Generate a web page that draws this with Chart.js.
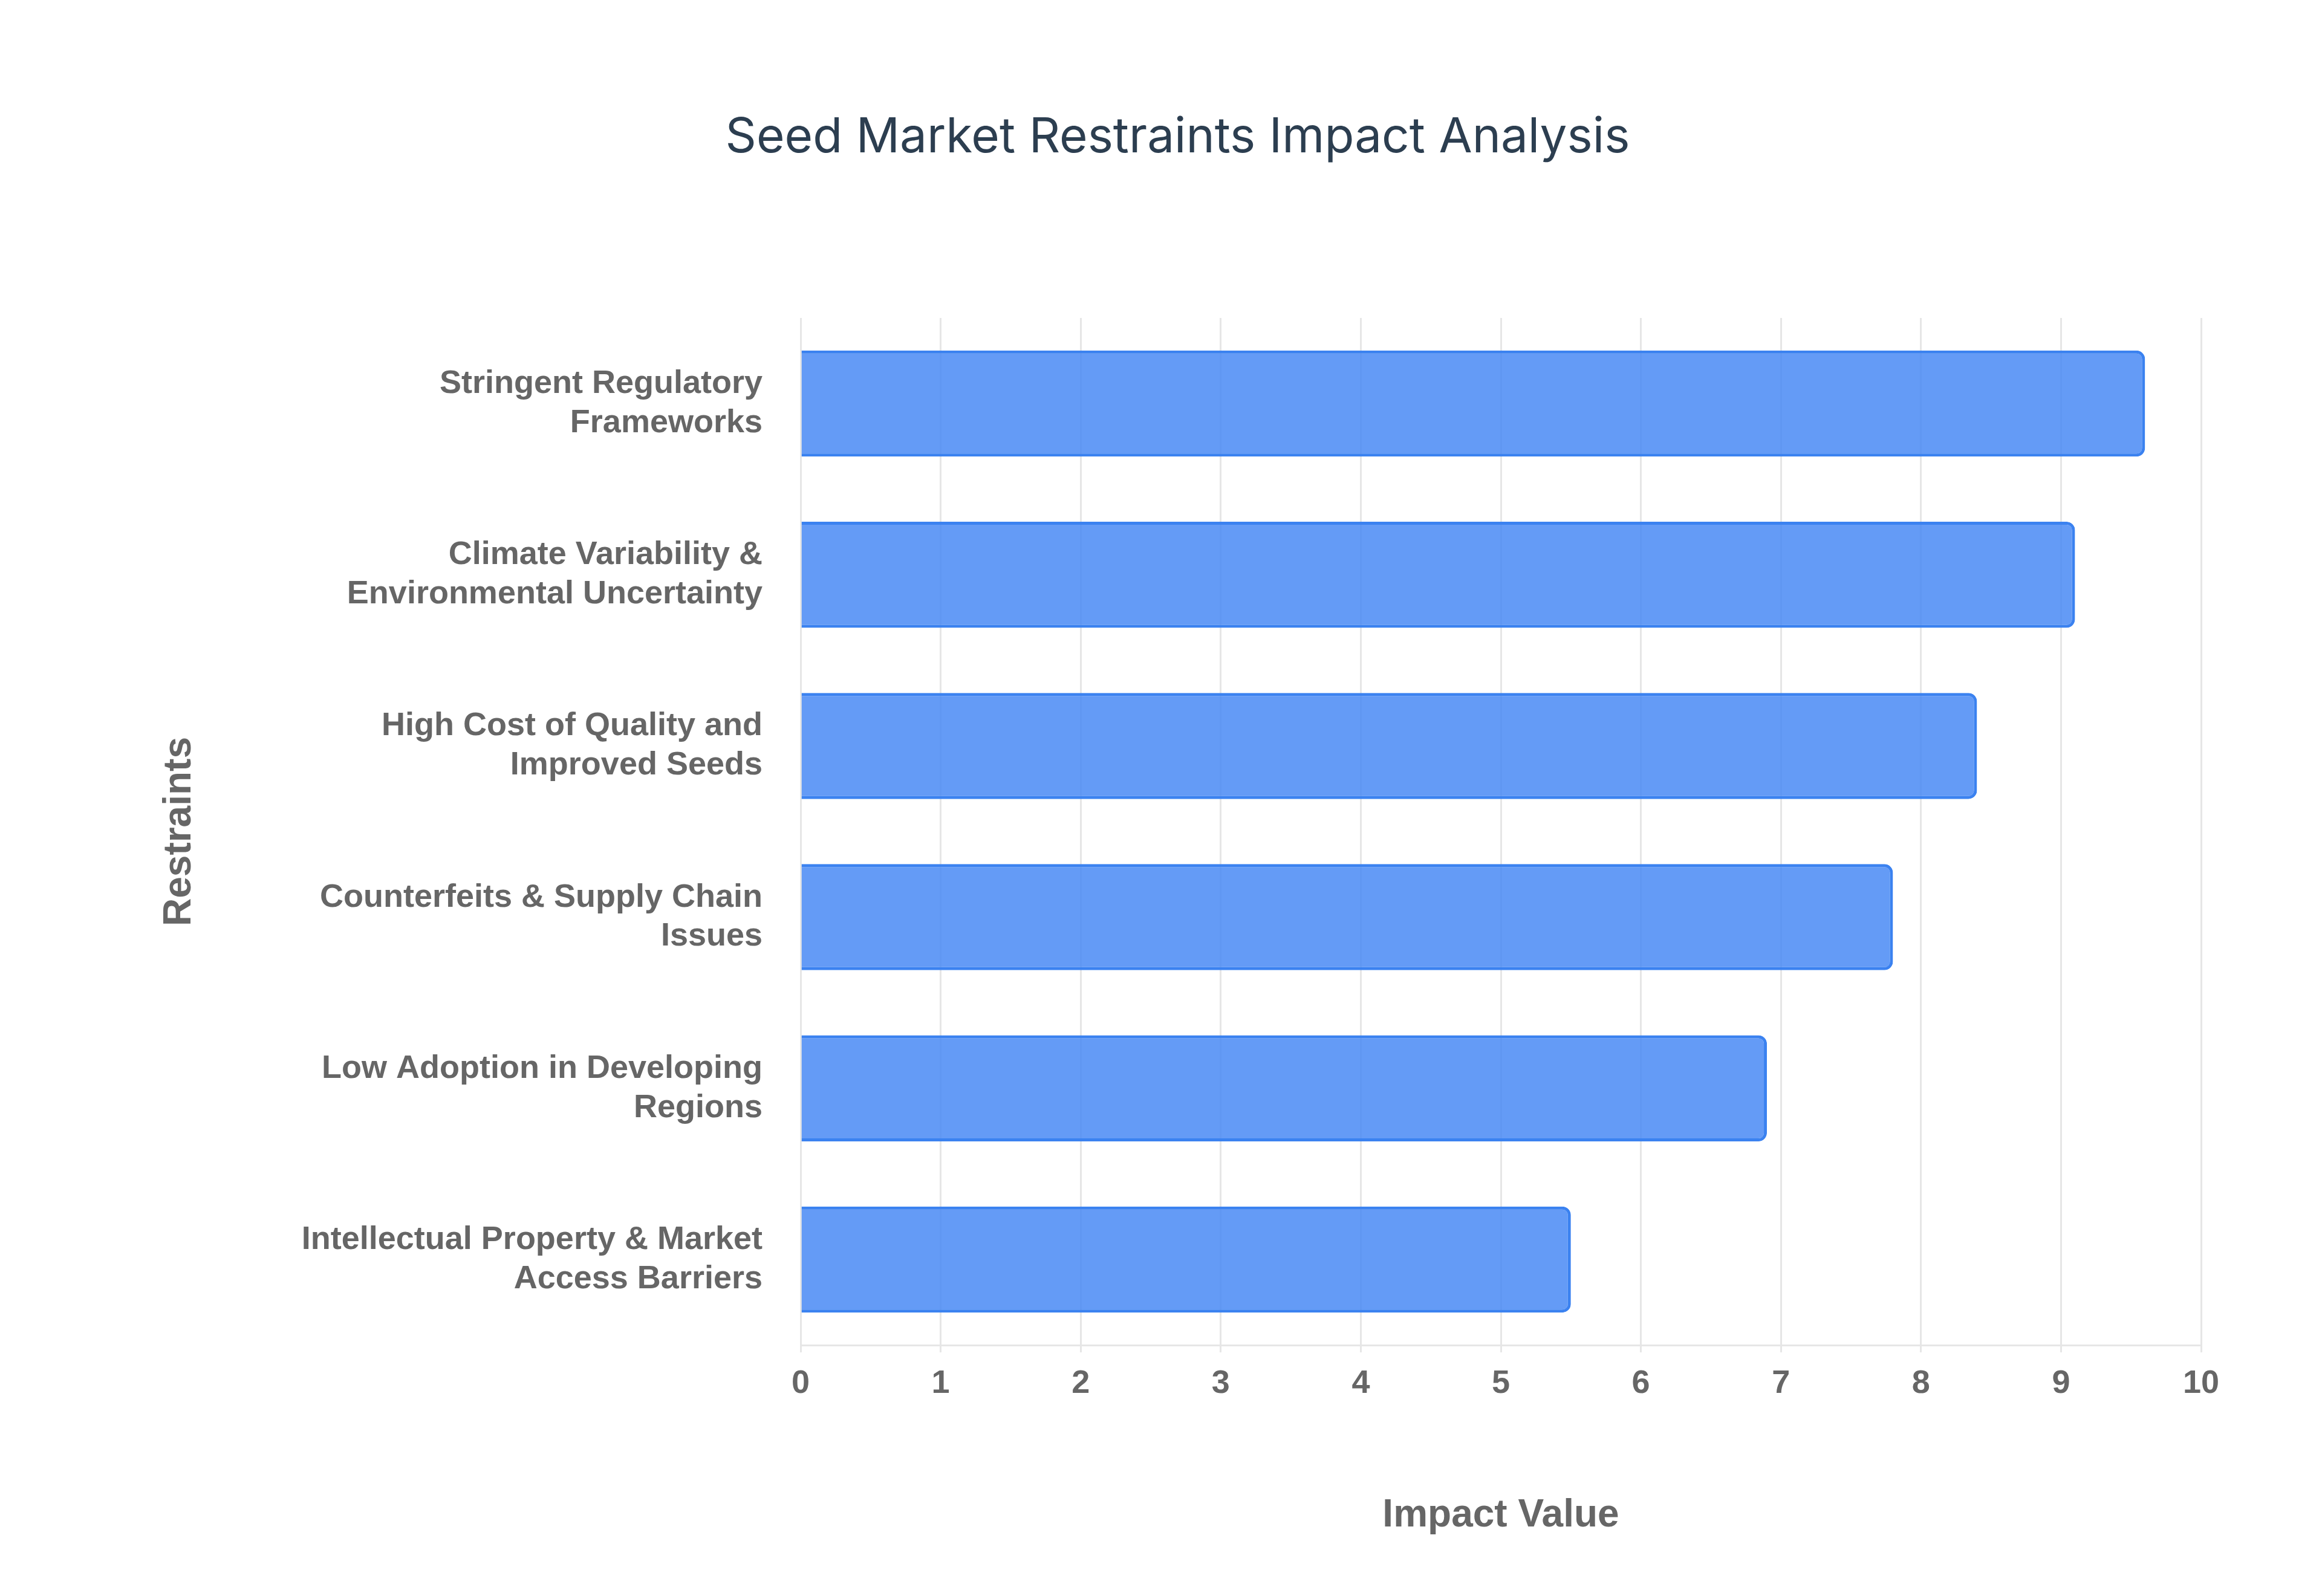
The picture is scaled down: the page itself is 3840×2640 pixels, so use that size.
<!DOCTYPE html>
<html><head><meta charset="utf-8">
<script src="https://cdn.jsdelivr.net/npm/chart.js@4"></script>
<style>html,body{margin:0;padding:0;background:#fff}#w{width:3840px;height:2640px}</style>
</head><body><div id="w"><canvas id="c"></canvas></div>
<script>
const categories = [
  ["Stringent Regulatory","Frameworks"],
  ["Climate Variability &","Environmental Uncertainty"],
  ["High Cost of Quality and","Improved Seeds"],
  ["Counterfeits & Supply Chain","Issues"],
  ["Low Adoption in Developing","Regions"],
  ["Intellectual Property & Market","Access Barriers"]
];
const impactValues = [9.6, 9.1, 8.4, 7.8, 6.9, 5.5];
const xTicks = [0,1,2,3,4,5,6,7,8,9,10];

new Chart(document.getElementById('c'), {
  type: 'bar',
  data: { labels: categories, datasets: [{
    data: impactValues,
    backgroundColor: 'rgba(66,133,244,0.82)',
    borderColor: '#3b82f0',
    borderWidth: 5, borderRadius: 14, borderSkipped: 'start',
    barPercentage: 0.62, categoryPercentage: 1
  }]},
  options: {
    indexAxis: 'y', responsive: true, maintainAspectRatio: false, animation: false,
    layout: { padding: { left: 255, right: 200, bottom: 90, top: 0 } },
    plugins: {
      legend: { display: false }, tooltip: { enabled: false },
      title: { display: true, text: 'Seed Market Restraints Impact Analysis', color: '#2c3e50',
        font: { family: 'Inter', size: 80, weight: 'normal' }, padding: { top: 180, bottom: 250 } }
    },
    scales: {
      x: { min: 0, max: 10, afterBuildTicks: s => { s.ticks = xTicks.map(v => ({value: v})); },
        afterFit: s => { s.height = 325; },
        grid: { color: '#e6e6e6', lineWidth: 3, drawTicks: true, tickLength: 12 },
        border: { color: '#e6e6e6', width: 3 },
        ticks: { color: '#666', padding: 20, font: { family: 'Liberation Sans', size: 54, weight: 'bold' } },
        title: { display: true, text: 'Impact Value', color: '#666', padding: { top: 60 },
          font: { family: 'Liberation Sans', size: 64, weight: 'bold' } } },
      y: { afterFit: s => { s.width = 1069; },
        grid: { display: false }, border: { display: false },
        ticks: { color: '#666', padding: 55, font: { family: 'Liberation Sans', size: 54, weight: 'bold' }, lineHeight: 1.4 },
        title: { display: true, text: 'Restraints', color: '#666',
          font: { family: 'Liberation Sans', size: 64, weight: 'bold' } } }
    }
  }
});
</script></body></html>
